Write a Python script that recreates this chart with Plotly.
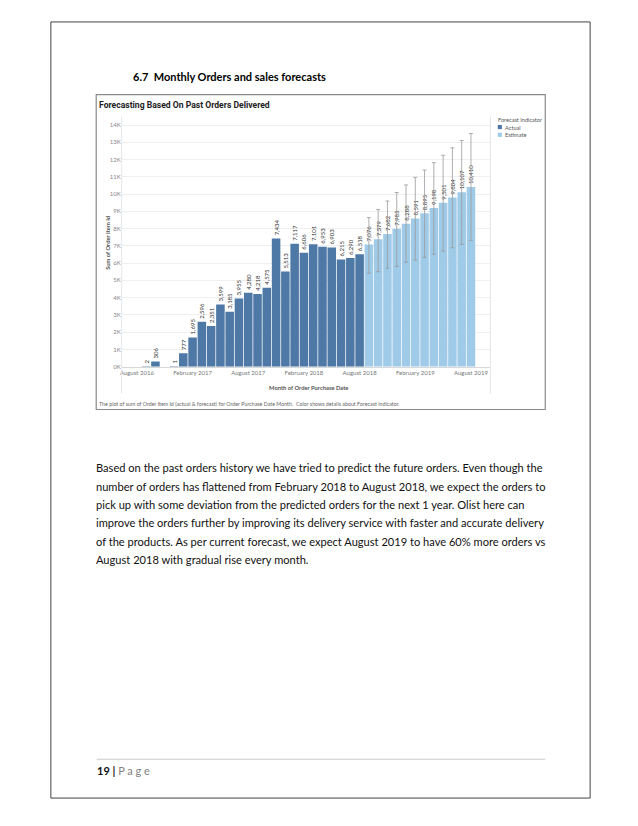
import plotly.graph_objects as go

# ---------------- data ----------------
months = ["2016-08", "2016-09", "2016-10", "2016-11", "2016-12",
          "2017-01", "2017-02", "2017-03", "2017-04", "2017-05", "2017-06",
          "2017-07", "2017-08", "2017-09", "2017-10", "2017-11", "2017-12",
          "2018-01", "2018-02", "2018-03", "2018-04", "2018-05", "2018-06",
          "2018-07", "2018-08",
          "2018-09", "2018-10", "2018-11", "2018-12", "2019-01", "2019-02",
          "2019-03", "2019-04", "2019-05", "2019-06", "2019-07", "2019-08"]

actual_months = months[:25]
actual_values = [None, 2, 306, None, 1,
                 777, 1695, 2596, 2351, 3599, 3185,
                 3955, 4280, 4218, 4575, 7434, 5513,
                 7117, 6606, 7101, 6953, 6903, 6215,
                 6290, 6518]

estimate_months = months[25:]
estimate_values = [7076, 7379, 7682, 7985, 8288, 8591,
                   8895, 9198, 9501, 9804, 10107, 10410]
estimate_upper = [8640, 9110, 9600, 10090, 10530, 10970,
                  11390, 11820, 12250, 12680, 13110, 13510]
estimate_lower = [5410, 5500, 5700, 5810, 6050, 6180,
                  6330, 6510, 6700, 6890, 7080, 7320]

x_tick_months = ["2016-08", "2017-02", "2017-08", "2018-02", "2018-08", "2019-02", "2019-08"]
x_tick_labels = ["August 2016", "February 2017", "August 2017", "February 2018",
                 "August 2018", "February 2019", "August 2019"]
y_tick_values = [0, 1000, 2000, 3000, 4000, 5000, 6000, 7000, 8000, 9000,
                 10000, 11000, 12000, 13000, 14000]
y_tick_labels = ["0K", "1K", "2K", "3K", "4K", "5K", "6K", "7K", "8K", "9K",
                 "10K", "11K", "12K", "13K", "14K"]

body_lines = [
    "Based on the past orders history we have tried to predict the future orders. Even though the",
    "number of orders has flattened from February 2018 to August 2018, we expect the orders to",
    "pick up with some deviation from the predicted orders for the next 1 year. Olist here can",
    "improve the orders further by improving its delivery service with faster and accurate delivery",
    "of the products. As per current forecast, we expect August 2019 to have 60% more orders vs",
    "August 2018 with gradual rise every month.",
]

# ---------------- page geometry helpers ----------------
# the HTML body has an 8px margin, so the figure is 16px smaller than the window
OFF = 8
W, H = 638 - 2 * OFF, 826 - 2 * OFF


def px(x):
    return (x - OFF) / W


def py(y):
    return 1 - (y - OFF) / H


ACTUAL_C = "#4E79A7"
EST_C = "#A0CBE8"
CHART_FONT = "Lato, Roboto, sans-serif"
DOC_FONT = "Lato, 'Open Sans', sans-serif"

fig = go.Figure()

fig.add_trace(go.Bar(
    x=actual_months, y=actual_values, name="Actual",
    marker=dict(color=ACTUAL_C, line=dict(width=0)),
    texttemplate="%{y:,}", textposition="outside", textangle=-90,
    textfont=dict(size=6, color="#333", family=CHART_FONT),
    constraintext="none", cliponaxis=False, showlegend=False,
))

fig.add_trace(go.Bar(
    x=estimate_months, y=estimate_values, name="Estimate",
    marker=dict(color=EST_C, line=dict(width=0)),
    texttemplate="%{y:,}", textposition="outside", textangle=-90,
    textfont=dict(size=6, color="#333", family=CHART_FONT),
    constraintext="none", cliponaxis=False, showlegend=False,
    error_y=dict(type="data", symmetric=False,
                 array=[u - v for u, v in zip(estimate_upper, estimate_values)],
                 arrayminus=[v - l for v, l in zip(estimate_values, estimate_lower)],
                 color="#9a9a9a", thickness=0.8, width=2),
))

plot_left, plot_right = 120, 490
plot_top, plot_bottom = 116.9, 368
month_px = 9.31
origin_px = 135.3

fig.update_layout(
    width=W, height=H,
    margin=dict(l=0, r=0, t=0, b=0),
    paper_bgcolor="white", plot_bgcolor="white",
    barmode="overlay", bargap=0.08,
    font=dict(family=CHART_FONT, color="#555"),
    xaxis=dict(
        domain=[px(plot_left), px(plot_right)],
        type="category", categoryorder="array", categoryarray=months,
        range=[(plot_left - origin_px) / month_px, (plot_right - origin_px) / month_px],
        tickmode="array", tickvals=x_tick_months, ticktext=x_tick_labels,
        tickfont=dict(size=6, color="#777"), ticks="", showgrid=False,
        showline=True, linecolor="#d8d8d8", linewidth=1, zeroline=False,
    ),
    yaxis=dict(
        domain=[py(plot_bottom), py(plot_top)],
        range=[0, (plot_bottom - plot_top) / ((plot_bottom - 125.5) / 14000)],
        tickmode="array", tickvals=y_tick_values, ticktext=y_tick_labels,
        tickfont=dict(size=6, color="#888"), ticks="",
        showgrid=True, gridcolor="#efefef", gridwidth=1, zeroline=False,
        showline=False,
    ),
)

shapes = []
# page border
shapes.append(dict(type="rect", xref="paper", yref="paper",
                   x0=px(49), x1=px(590), y0=py(801), y1=py(22),
                   line=dict(color="#444", width=1)))
# chart image border
shapes.append(dict(type="rect", xref="paper", yref="paper",
                   x0=px(94.5), x1=px(545), y0=py(411), y1=py(95),
                   line=dict(color="#8a8a8a", width=1.2)))
# pane divider lines
shapes.append(dict(type="line", xref="paper", yref="paper",
                   x0=px(plot_left), x1=px(plot_left), y0=py(395), y1=py(plot_top),
                   line=dict(color="#e6e6e6", width=1)))
shapes.append(dict(type="line", xref="paper", yref="paper",
                   x0=px(plot_right), x1=px(plot_right), y0=py(395), y1=py(plot_top),
                   line=dict(color="#e6e6e6", width=1)))
# legend swatches
shapes.append(dict(type="rect", xref="paper", yref="paper",
                   x0=px(497.3), x1=px(501.5), y0=py(129.6), y1=py(125.4),
                   fillcolor=ACTUAL_C, line=dict(width=0)))
shapes.append(dict(type="rect", xref="paper", yref="paper",
                   x0=px(497.3), x1=px(501.5), y0=py(137.4), y1=py(133.2),
                   fillcolor=EST_C, line=dict(width=0)))
# footer line
shapes.append(dict(type="line", xref="paper", yref="paper",
                   x0=px(95), x1=px(545), y0=py(762), y1=py(762),
                   line=dict(color="#bbb", width=0.8)))

ann = []


def add_text(x, y, text, size, color="#000", family=DOC_FONT, xanchor="left",
             angle=0, yanchor="middle"):
    ann.append(dict(x=px(x), y=py(y), xref="paper", yref="paper", text=text,
                    showarrow=False, xanchor=xanchor, yanchor=yanchor,
                    textangle=angle, font=dict(size=size, color=color, family=family)))


# document heading
add_text(129, 77, "<b>6.7&nbsp;&nbsp;Monthly Orders and sales forecasts</b>", 11)
# chart title
add_text(95, 105, "<b>Forecasting Based On Past Orders Delivered</b>", 8.6, "#222",
         "'Liberation Sans Narrow', 'Roboto', sans-serif")
# legend
add_text(495.5, 119.5, "Forecast Indicator", 5.6, "#555", CHART_FONT)
add_text(502.3, 127.6, "Actual", 5.6, "#555", CHART_FONT)
add_text(502.3, 135.4, "Estimate", 5.6, "#555", CHART_FONT)
# axis titles
add_text(105, 244, "<b>Sum of Order Item Id</b>", 5.8, "#555", CHART_FONT,
         xanchor="center", angle=-90)
add_text(307, 388.5, "<b>Month of Order Purchase Date</b>", 5.8, "#555", CHART_FONT,
         xanchor="center")
# caption
add_text(95.5, 405, "The plot of sum of Order Item Id (actual &amp; forecast) for Order Purchase "
         "Date Month.  Color shows details about Forecast indicator.", 5.3, "#666",
         CHART_FONT)
# body
for i, line in enumerate(body_lines):
    add_text(92.5, 469.5 + i * 18.4, line, 11.1, "#111")
# footer
add_text(93, 773, "<b>19 |</b> <span style='color:#7f7f7f'>P a g e</span>", 11, "#111")

fig.update_layout(shapes=shapes, annotations=ann)

fig.write_html("out.html")
